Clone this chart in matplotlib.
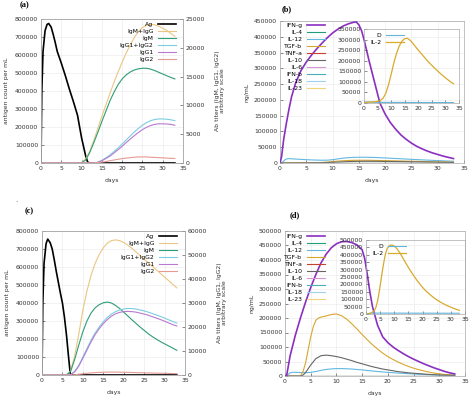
import matplotlib
matplotlib.use("Agg")
import matplotlib.pyplot as plt
from matplotlib.ticker import MultipleLocator, FormatStrFormatter

# ---------------- panel (a) : antigen + antibodies, first run
ag_days_a = [0, 0.2, 0.5, 1.0, 1.5, 1.9, 2.5, 3.0, 3.5, 4, 5, 6, 7, 8, 9, 10, 10.5, 11, 11.5, 12, 33]
ag_a = [0, 400000, 620000, 735000, 770000, 775000, 755000, 715000, 670000, 620000, 555000,
        485000, 410000, 340000, 265000, 140000, 90000, 40000, 5000, 0, 0]

ab_days_a = [0, 9, 10, 11, 12, 13, 14, 15, 16, 17, 18, 19, 20, 21, 22, 23, 24, 25, 26, 27, 28, 29, 30, 31, 32, 33]
igsum_a = [0, 0, 100, 700, 2000, 3900, 6000, 8100, 10100, 12100, 14000, 15800, 17500, 19100, 20500,
           21800, 22800, 23500, 23900, 24050, 24000, 23750, 23400, 23000, 22500, 22000]
igm_a = [0, 0, 50, 500, 1800, 3500, 5300, 7200, 9000, 10800, 12300, 13600, 14600, 15300, 15800,
         16150, 16350, 16450, 16450, 16300, 16050, 15750, 15450, 15150, 14850, 14600]
igg12_a = [0, 0, 0, 0, 0, 0, 150, 450, 900, 1400, 2000, 2600, 3300, 4000, 4700,
           5400, 6000, 6550, 7000, 7350, 7550, 7650, 7650, 7600, 7500, 7350]
igg1_a = [0, 0, 0, 0, 0, 0, 120, 400, 780, 1200, 1750, 2300, 2900, 3550, 4150,
          4750, 5300, 5800, 6200, 6500, 6700, 6800, 6800, 6780, 6700, 6550]
igg2_a = [0, 0, 0, 0, 0, 0, 60, 150, 250, 400, 520, 650, 760, 850, 930,
          1000, 1050, 1060, 1050, 1000, 970, 930, 890, 850, 810, 780]

# ---------------- panel (b) : cytokines, first run
ifng_days_b = [0, 0.3, 0.7, 1.2, 1.7, 2.2, 3, 4, 5, 6, 7, 8, 9, 10, 11, 12, 13, 14, 14.5, 15, 15.5, 16,
               17, 18, 19, 20, 21, 22, 23, 24, 25, 26, 27, 28, 29, 30, 31, 32, 33]
ifng_b = [0, 20000, 75000, 125000, 170000, 210000, 255000, 293000, 320000, 342000, 362000, 380000,
          397000, 412000, 424000, 434000, 441000, 446000, 447000, 438000, 420000, 390000,
          320000, 255000, 190000, 155000, 128000, 107000, 89000, 75000, 63000, 53000, 45000,
          38000, 32000, 27000, 22000, 18000, 14000]
low_days_b = [0, 0.5, 1, 1.5, 2, 3, 4, 5, 6, 7, 8, 9, 10, 11, 12, 13, 14, 15, 16, 17, 18, 19, 20,
              22, 24, 26, 28, 30, 33]
il12_b = [0, 3000, 11000, 14000, 13500, 12500, 11500, 10500, 9800, 9200, 8800, 9000, 10500, 13000,
          15500, 17000, 17800, 18200, 18200, 18000, 17500, 16800, 16000, 14300, 12500, 10800, 9200, 7600, 5500]
tgfb_b = [0, 0, 500, 800, 900, 1000, 1000, 1000, 1000, 1200, 1800, 3000, 4500, 6000, 7200, 8000,
          8500, 8700, 8700, 8500, 8200, 7800, 7500, 6800, 6000, 5200, 4400, 3600, 2700]
il10_b = [0, 0, 0, 0, 0, 200, 300, 400, 500, 700, 1000, 1500, 2200, 3000, 3800, 4500, 5000, 5300,
          5400, 5400, 5300, 5100, 4900, 4500, 4000, 3500, 3000, 2500, 1800]
flat_days = [0, 33]
flat_zero = [0, 0]

# inset (b)
il2_days_b = [0, 2, 4, 5, 6, 7, 8, 9, 10, 11, 12, 13, 14, 15, 16, 17, 18, 19, 20, 21, 22, 23, 24,
              25, 26, 27, 28, 29, 30, 31, 32, 33]
il2_b = [2000, 4000, 6000, 8000, 12000, 22000, 45000, 85000, 135000, 190000, 235000, 270000, 293000,
         304000, 306000, 297000, 282000, 266000, 250000, 235000, 220000, 205000, 191000, 178000,
         165000, 153000, 141000, 130000, 119000, 109000, 99000, 91000]
d_days_b = [0, 1, 5, 33]
d_b = [3000, 5000, 3000, 2000]

# ---------------- panel (c) : antigen + antibodies, second run
ag_days_c = [0, 0.2, 0.5, 1.0, 1.4, 2.0, 2.5, 3.0, 3.5, 4.0, 4.5, 5.0, 5.5, 6.0, 6.5, 6.9, 7.2, 33]
ag_c = [0, 400000, 620000, 730000, 755000, 735000, 700000, 640000, 575000, 515000, 455000,
        400000, 320000, 220000, 100000, 10000, 0, 0]

ab_days_c = [0, 6, 7, 8, 9, 10, 11, 12, 13, 14, 15, 16, 17, 18, 19, 20, 21, 22, 23, 24, 25, 26,
             27, 28, 29, 30, 31, 32, 33]
igsum_c = [0, 0, 1700, 8000, 17000, 27000, 35000, 41500, 46500, 50200, 53000, 55000, 56000, 56300,
           56000, 55200, 54100, 52800, 51300, 49800, 48300, 46800, 45300, 43800, 42300, 40800,
           39300, 37800, 36300]
igm_c = [0, 0, 1500, 6500, 12500, 18000, 22500, 25800, 28000, 29300, 30100, 30400, 30000, 29000,
         27700, 26200, 24600, 23000, 21500, 20000, 18600, 17200, 16000, 14900, 13900, 13000,
         12100, 11200, 10300]
igg12_c = [0, 0, 200, 1500, 4000, 7500, 11000, 14500, 17500, 20000, 22200, 24000, 25400, 26400,
           27100, 27500, 27700, 27700, 27500, 27100, 26700, 26200, 25600, 25000, 24400, 23700,
           23000, 22300, 21600]
igg1_c = [0, 0, 150, 1300, 3700, 7000, 10400, 13800, 16800, 19300, 21400, 23100, 24500, 25500,
          26100, 26400, 26500, 26400, 26200, 25800, 25400, 24900, 24300, 23700, 23100, 22400,
          21700, 21000, 20400]
igg2_c = [0, 0, 0, 100, 300, 500, 700, 850, 1000, 1100, 1150, 1200, 1220, 1200, 1180, 1150, 1100,
          1050, 1000, 950, 900, 860, 820, 780, 740, 700, 660, 620, 580]

# ---------------- panel (d) : cytokines, second run
ifng_days_d = [0, 0.3, 1, 2, 3, 4, 5, 6, 7, 8, 9, 10, 11, 12, 13, 14, 15, 15.5, 16, 16.5, 17, 18,
               19, 20, 21, 22, 23, 24, 25, 26, 27, 28, 29, 30, 31, 32, 33]
ifng_d = [0, 0, 70000, 140000, 200000, 255000, 305000, 350000, 390000, 420000, 442000, 456000,
          463000, 464000, 460000, 452000, 435000, 405000, 350000, 290000, 240000, 175000, 135000,
          115000, 100000, 88000, 77000, 67000, 58000, 50000, 42000, 35000, 28000, 22000, 16000,
          11000, 7000]
tgfb_days_d = [0, 3, 3.5, 4, 4.5, 5, 5.5, 6, 6.5, 7, 8, 9, 10, 11, 12, 13, 14, 15, 16, 17, 18, 19,
               20, 21, 22, 23, 24, 25, 26, 27, 28, 29, 30, 31, 32, 33]
tgfb_d = [0, 0, 15000, 45000, 90000, 135000, 170000, 192000, 200000, 203000, 207000, 212000,
          214000, 208000, 196000, 180000, 162000, 143000, 125000, 108000, 93000, 79000, 67000,
          57000, 48000, 40000, 33000, 27000, 22000, 17500, 13500, 10000, 7500, 5500, 4000, 3000]
il10_days_d = [0, 3, 3.5, 4, 5, 6, 7, 8, 9, 10, 11, 12, 13, 14, 15, 16, 17, 18, 19, 20, 22, 24,
               26, 28, 30, 33]
il10_d = [0, 0, 3000, 12000, 38000, 60000, 70000, 72000, 70000, 67000, 63000, 58000, 53000, 47000,
          42000, 37000, 32000, 28000, 24000, 21000, 15000, 11000, 8000, 5500, 3500, 2000]
il12_days_d = [0, 0.5, 1, 1.5, 2, 3, 4, 5, 6, 7, 8, 9, 10, 11, 12, 13, 14, 15, 16, 18, 20, 22, 24,
               26, 28, 30, 33]
il12_d = [0, 4000, 11000, 13000, 12500, 12000, 11500, 12500, 15500, 19500, 22500, 24500, 25500,
          25500, 25000, 24000, 22500, 21000, 19000, 15500, 12500, 10000, 8000, 6000, 4500, 3200, 2000]

# inset (d)
il2_days_d = [0, 1, 2, 3, 3.5, 4, 4.5, 5, 5.5, 6, 6.5, 7, 7.5, 8, 8.5, 9, 9.5, 10, 11, 12, 13, 14,
              15, 16, 17, 18, 19, 20, 21, 22, 23, 24, 25, 26, 27, 28, 29, 30, 31, 32, 33]
il2_d = [0, 2000, 8000, 25000, 45000, 80000, 130000, 190000, 255000, 315000, 370000, 415000,
         443000, 457000, 464000, 466000, 464000, 458000, 440000, 412000, 380000, 346000, 314000,
         284000, 255000, 228000, 203000, 180000, 159000, 141000, 125000, 110000, 96000, 84000,
         73000, 63000, 54000, 46000, 38000, 31000, 25000]
d_days_d = [0, 2, 5, 33]
d_d = [2000, 6000, 6000, 5000]

cyto_names = ['IFN-g', 'IL-4', 'IL-12', 'TGF-b', 'TNF-a', 'IL-10', 'IL-6', 'IFN-b', 'IL-18', 'IL-23']
cyto_colors = ['#8a2fc0', '#1f9e79', '#62b8e0', '#d9a62e', '#c8412d', '#666666', '#d596d8',
               '#4ab0b8', '#9dd3ee', '#f0d37a']
ab_names = ['Ag', 'IgM+IgG', 'IgM', 'IgG1+IgG2', 'IgG1', 'IgG2']
ab_colors = ['black', '#ebc683', '#2e9e74', '#7dcde0', '#b77ad0', '#e59a94']

FS = 4.4
W, H = 474, 398


def box(x0, y0, x1, y1):
    # pixel box -> figure fraction
    return [x0 / W, 1 - y1 / H, (x1 - x0) / W, (y1 - y0) / H]


def style(ax, ymax, ystep, grid=True):
    ax.set_xlim(0, 35)
    ax.set_ylim(0, ymax)
    ax.xaxis.set_major_locator(MultipleLocator(5))
    ax.yaxis.set_major_locator(MultipleLocator(ystep))
    ax.yaxis.set_major_formatter(FormatStrFormatter('%d'))
    ax.tick_params(direction='in', length=2, width=0.4, labelsize=FS, pad=2,
                   colors='#333333')
    if grid:
        ax.grid(True, color='#e8e8e8', lw=0.4)
    for s in ax.spines.values():
        s.set_color('#aaaaaa')
        s.set_linewidth(0.5)


def legend_at(ax, handles, labels, x, y):
    ax.legend(handles, labels, loc='upper right', bbox_to_anchor=(x / W, 1 - y / H),
              bbox_transform=fig.transFigure, frameon=False, fontsize=FS,
              markerfirst=False, handlelength=3.0, handletextpad=0.7,
              labelspacing=0.28, borderpad=0, borderaxespad=0)


def ab_panel(rect, ag_days, ag, ab_days, series, ab_max, ab_step, leg_x, leg_y):
    ax = fig.add_axes(rect)
    style(ax, 800000, 100000)
    ax2 = ax.twinx()
    style(ax2, ab_max, ab_step, grid=False)
    h0, = ax.plot(ag_days, ag, color=ab_colors[0], lw=1.2)
    hs = [h0]
    for vals, col in zip(series, ab_colors[1:]):
        h, = ax2.plot(ab_days, vals, color=col, lw=0.8)
        hs.append(h)
    ax.set_xlabel('days', fontsize=FS, labelpad=5, color='#333333')
    ax.set_ylabel('antigen count per mL', fontsize=FS, labelpad=4, color='#333333')
    ax2.set_ylabel('Ab titers (IgM, IgG1, IgG2)\narbitrary scale', fontsize=FS,
                   labelpad=7, color='#333333', linespacing=1.1)
    legend_at(ax2, hs, ab_names, leg_x, leg_y)
    return ax, ax2


def cyto_panel(rect, curves, ymax, leg_x, leg_y):
    ax = fig.add_axes(rect)
    style(ax, ymax, 50000)
    handles = {}
    for name, col in zip(cyto_names, cyto_colors):
        if name in curves:
            d, v = curves[name]
        else:
            d, v = flat_days, flat_zero
        lw = 1.2 if name == 'IFN-g' else 0.8
        h, = ax.plot(d, v, color=col, lw=lw, zorder=3 if name == 'IFN-g' else 2)
        handles[name] = h
    ax.set_xlabel('days', fontsize=FS, labelpad=5, color='#333333')
    ax.set_ylabel('ng/mL', fontsize=FS, labelpad=3, color='#333333')
    legend_at(ax, [handles[n] for n in cyto_names], cyto_names, leg_x, leg_y)
    return ax


def inset(rect, d_days, d_vals, il2_days, il2_vals, ymax, leg_x, leg_y):
    ax = fig.add_axes(rect)
    ax.set_facecolor('none')
    style(ax, ymax, 50000, grid=False)
    h1, = ax.plot(d_days, d_vals, color='#62b4da', lw=0.8)
    h2, = ax.plot(il2_days, il2_vals, color='#d8aa2c', lw=0.9)
    legend_at(ax, [h1, h2], ['D', 'IL-2'], leg_x, leg_y)
    return ax


fig = plt.figure(figsize=(W / 100, H / 100), dpi=100)

# (a)
ab_panel(box(41, 19, 183, 163), ag_days_a, ag_a, ab_days_a,
         [igsum_a, igm_a, igg12_a, igg1_a, igg2_a], 25000, 5000, 176, 21.5)

# (b)
cyto_panel(box(280, 21, 464, 163),
           {'IFN-g': (ifng_days_b, ifng_b), 'IL-12': (low_days_b, il12_b),
            'TGF-b': (low_days_b, tgfb_b), 'IL-10': (low_days_b, il10_b)},
           450000, 325, 23)
inset(box(364, 29, 459, 103), d_days_b, d_b, il2_days_b, il2_b, 350000, 404, 32.5)

# (c)
ab_panel(box(42, 231, 185, 375), ag_days_c, ag_c, ab_days_c,
         [igsum_c, igm_c, igg12_c, igg1_c, igg2_c], 60000, 10000, 177, 234)

# (d)
cyto_panel(box(285, 231, 465, 376),
           {'IFN-g': (ifng_days_d, ifng_d), 'IL-12': (il12_days_d, il12_d),
            'TGF-b': (tgfb_days_d, tgfb_d), 'IL-10': (il10_days_d, il10_d)},
           500000, 325, 234)
inset(box(366, 240, 465, 314), d_days_d, d_d, il2_days_d, il2_d, 500000, 406, 243.5)

# panel letters
for txt, x, y in [('(a)', 20, 5), ('(b)', 282, 9), ('(c)', 25, 211), ('(d)', 290, 215)]:
    fig.text(x / W, 1 - y / H, txt, fontsize=6, fontweight='bold',
             family='Liberation Serif', va='center', ha='left')
fig.text(15 / W, 1 - 200 / H, '.', fontsize=5, color='#555555', va='center')

fig.savefig('out.png', dpi=100)
